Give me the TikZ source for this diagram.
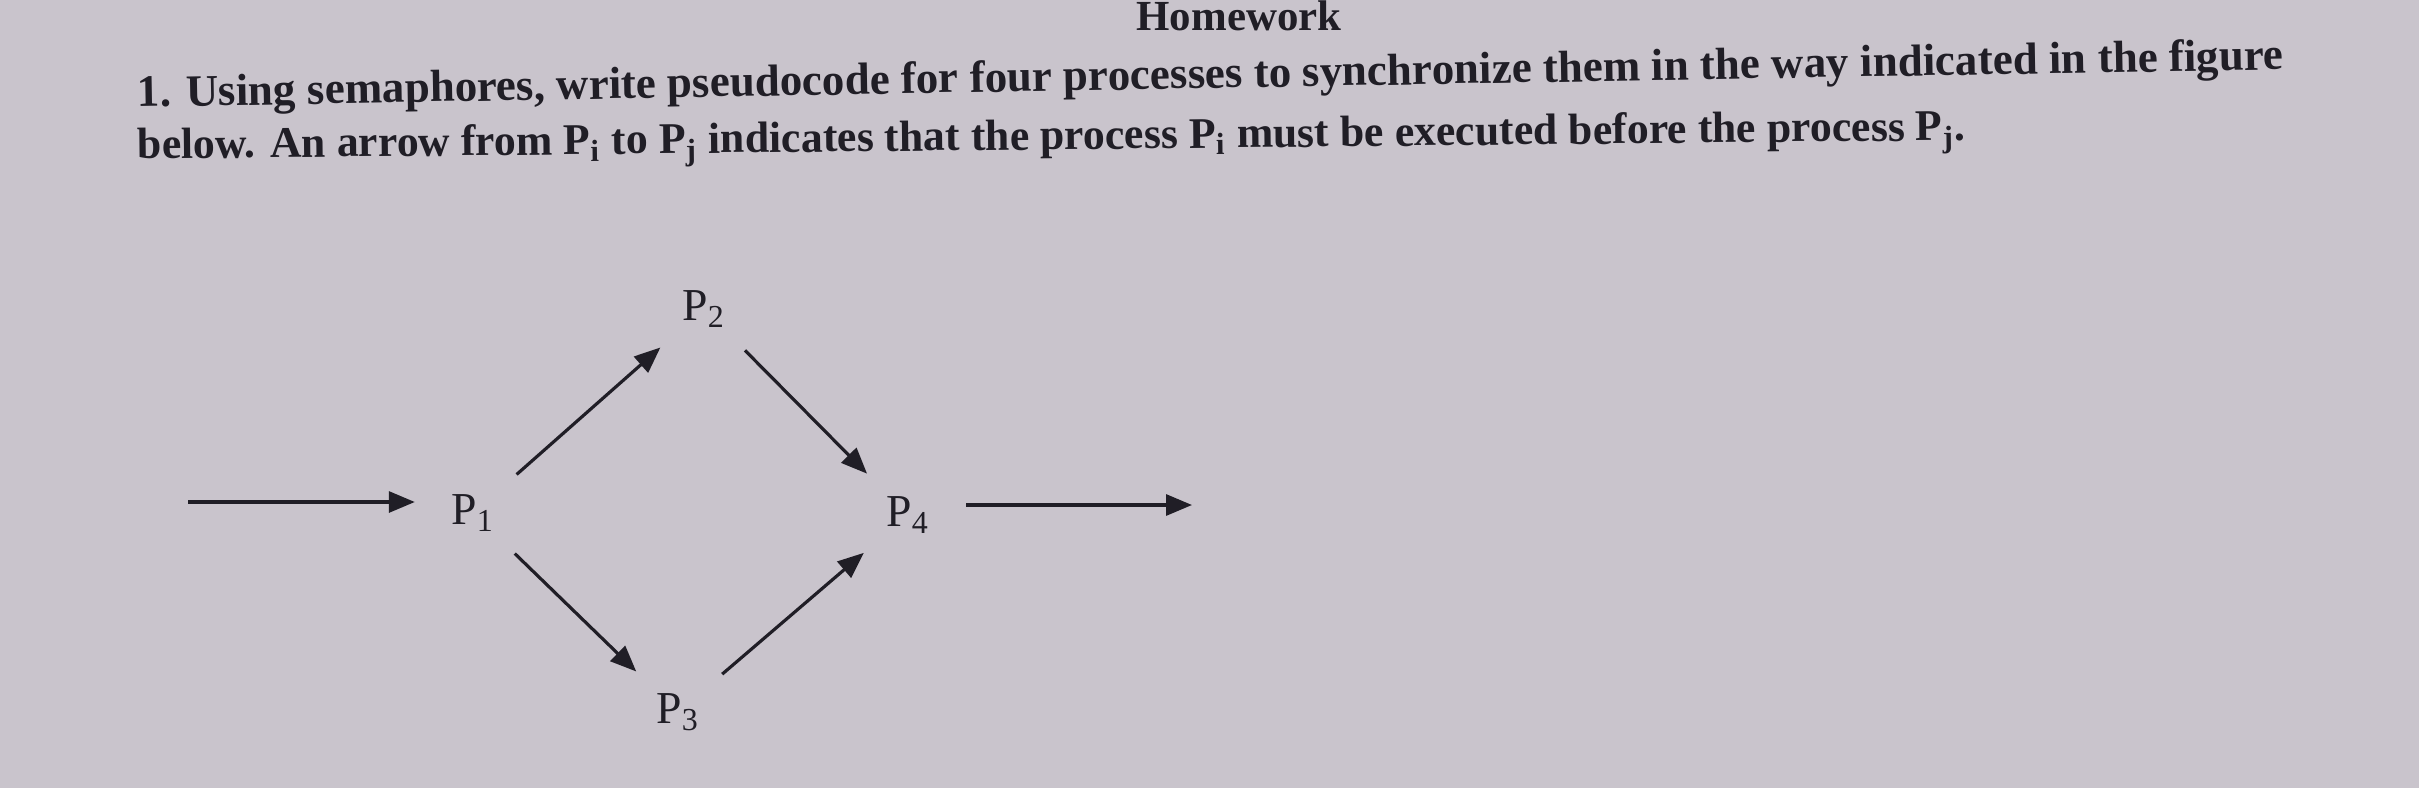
\documentclass[tikz,border=0pt]{standalone}
\usepackage{fontspec}
\setmainfont{Liberation Serif}
\usetikzlibrary{arrows.meta}
\definecolor{paper}{RGB}{201,196,204}
\definecolor{ink}{RGB}{32,30,38}

\begin{document}
\begin{tikzpicture}[scale=1,
  proc/.style={circle,minimum size=1.15cm,inner sep=0pt,text=ink,font=\fontsize{13}{15}\selectfont},
  line/.style={text=ink,font=\bfseries,anchor=base west,inner sep=0pt},
  arr/.style={draw=ink,line width=0.9pt,-{Triangle[length=2.6mm,width=2.1mm]}}]

\fill[paper] (0,0) rectangle (24.19,-7.88);
\useasboundingbox (0,0) rectangle (24.19,-7.88);

% heading and question
\node[text=ink,font=\fontsize{12.2}{14}\selectfont\bfseries,anchor=base] (head) at (12.39,-0.30) {Homework};
\node[line,rotate=1.0] (q1) at (1.37,-1.07) {\fontsize{12.8}{15}\selectfont 1. Using semaphores, write pseudocode for four processes to synchronize them in the way indicated in the figure};
\node[line,rotate=0.59] (q2) at (1.37,-1.59) {\fontsize{12.45}{15}\selectfont below. An arrow from P\textsubscript{i} to P\textsubscript{j} indicates that the process P\textsubscript{i} must be executed before the process P\textsubscript{j}.};

% processes
\node[proc] (P1) at (4.73,-5.13) {P\textsubscript{1}};
\node[proc] (P2) at (7.04,-3.09) {P\textsubscript{2}};
\node[proc] (P3) at (6.78,-7.12) {P\textsubscript{3}};
\node[proc] (P4) at (9.08,-5.15) {P\textsubscript{4}};

\coordinate (in) at (1.88,-5.02);
\coordinate (out) at (11.92,-5.05);

\draw[arr] (in) -- (in -| P1.west);
\draw[arr] (P1) -- (P2);
\draw[arr] (P1) -- (P3);
\draw[arr] (P2) -- (P4);
\draw[arr] (P3) -- (P4);
\draw[arr] (P4.east |- out) -- (out);
\end{tikzpicture}
\end{document}
